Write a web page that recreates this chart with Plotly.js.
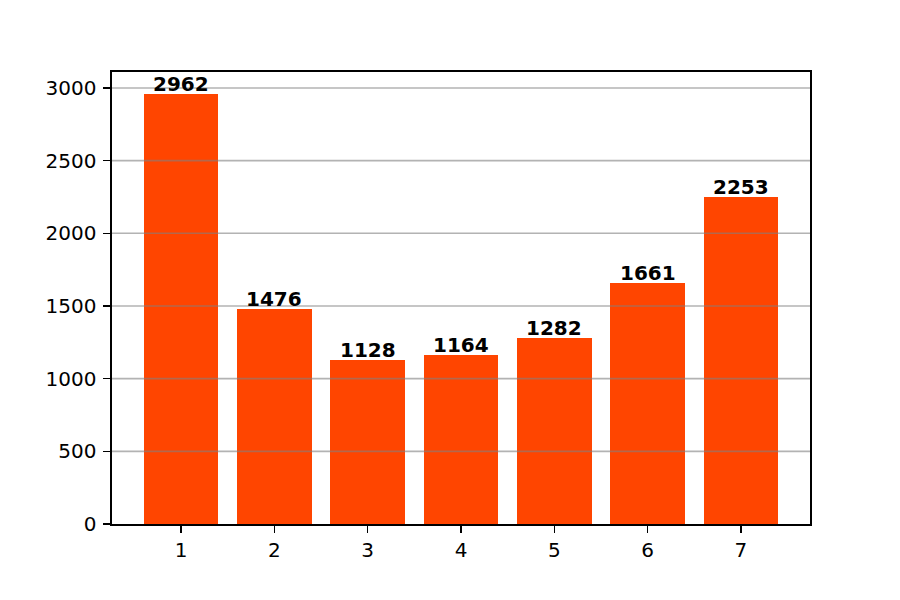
<!DOCTYPE html>
<html>
<head>
<meta charset="utf-8">
<script src="https://cdn.plot.ly/plotly-3.0.1.min.js"></script>
<style>body{margin:0;background:#fff}#chart{width:900px;height:600px}</style>
</head>
<body>
<div id="chart"></div>
<script>
const categories = [1, 2, 3, 4, 5, 6, 7];
const values = [2962, 1476, 1128, 1164, 1282, 1661, 2253];
const yTicks = [0, 500, 1000, 1500, 2000, 2500, 3000];

const trace = {
  type: 'bar',
  x: categories,
  y: values,
  width: 0.8,
  marker: {color: '#FF4500', line: {width: 0}},
  hoverinfo: 'none'
};

// value labels sitting on top of each bar
const labels = categories.map((c, i) => ({
  x: c, y: values[i], xref: 'x', yref: 'y',
  text: '<b>' + values[i] + '</b>',
  showarrow: false, yanchor: 'bottom', yshift: -4,
  font: {family: 'DejaVu Sans', size: 20, color: '#000'}
}));

// horizontal grid lines drawn above the bars, as in the reference
const gridShapes = yTicks.slice(1).map(t => ({
  type: 'line', xref: 'paper', yref: 'y',
  x0: 0, x1: 1, y0: t, y1: t,
  line: {color: 'rgba(128,128,128,0.6)', width: 1.6},
  layer: 'above'
}));

const layout = {
  width: 900, height: 600,
  margin: {l: 112, r: 90, t: 72, b: 76},
  paper_bgcolor: '#fff', plot_bgcolor: '#fff',
  font: {family: 'DejaVu Sans', size: 20, color: '#000'},
  showlegend: false,
  bargap: 0,
  shapes: gridShapes,
  annotations: labels,
  xaxis: {
    range: [0.26, 7.74],
    tickvals: categories,
    ticktext: categories.map(String),
    ticks: 'outside', ticklen: 7, tickwidth: 1.6, tickcolor: '#000',
    ticklabelstandoff: 0,
    showline: true, linecolor: '#000', linewidth: 1.6, mirror: true,
    showgrid: false, zeroline: false, layer: 'above traces'
  },
  yaxis: {
    range: [0, 3110],
    tickvals: yTicks,
    ticktext: yTicks.map(String),
    ticks: 'outside', ticklen: 7, tickwidth: 1.6, tickcolor: '#000',
    ticklabelstandoff: 3,
    showline: true, linecolor: '#000', linewidth: 1.6, mirror: true,
    showgrid: false, zeroline: false, layer: 'above traces'
  }
};

Plotly.newPlot('chart', [trace], layout, {displayModeBar: false, staticPlot: true});
</script>
</body>
</html>
